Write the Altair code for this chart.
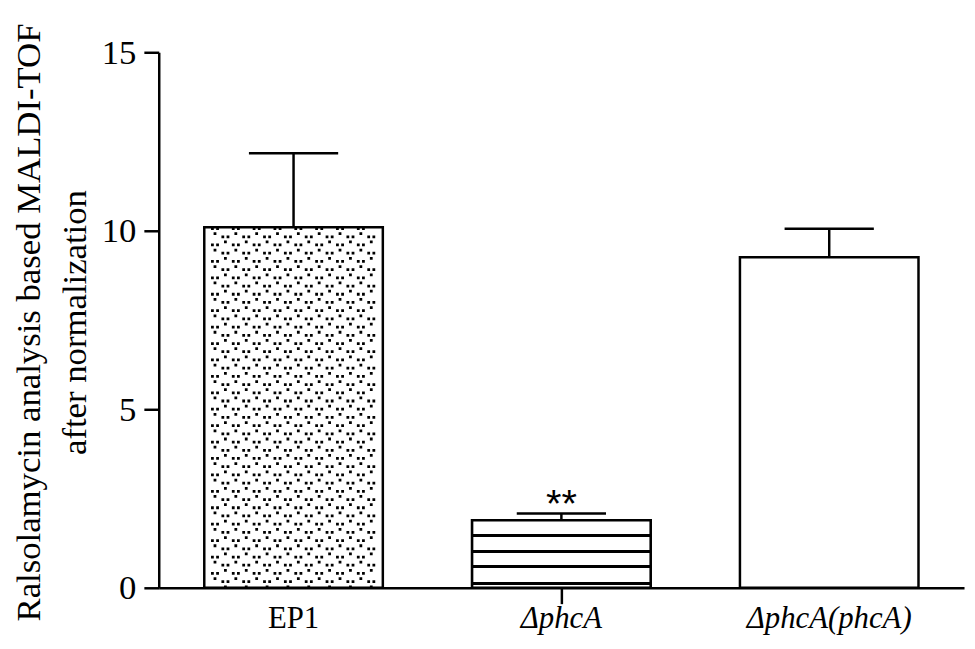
import altair as alt
import numpy as np
import pandas as pd

# ---- data ----
strains = ["EP1", "ΔphcA", "ΔphcA(phcA)"]
means = [10.1, 1.89, 9.26]
errors = [2.07, 0.19, 0.80]
stars = ["", "**", ""]
fills = ["dots", "stripes", "plain"]
y_ticks = [0, 5, 10, 15]
y_title = ["Ralsolamycin analysis based MALDI-TOF", "after normalization"]

df = pd.DataFrame({"strain": strains, "mean": means, "err": errors,
                   "sig": stars, "fill": fills})
df["upper"] = df["mean"] + df["err"]

SERIF = "'Liberation Serif', 'Times New Roman', Times, serif"
LW = 2.5

# band geometry of the category axis (style)
P_INNER = 1 / 3
P_OUTER = 0.17
n_cat = len(strains)
span = n_cat - P_INNER + 2 * P_OUTER   # band-scale range in "step" units

# ---- texture for the dotted bar (style only: a repeating dot pattern) ----
row_step = 0.23          # vertical pitch of the dot rows (y units)
col_step = 0.1167        # horizontal pitch (fraction of bar width)
recs = []
for idx, (s, m, f) in enumerate(zip(strains, means, fills)):
    if f != "dots":
        continue
    rows = np.arange(m - 0.11, 0.05, -row_step)
    for i, yv in enumerate(rows):
        start = 0.06 if i % 2 == 0 else 0.06 + col_step / 2
        for fr in np.arange(start, 0.96, col_step):
            recs.append({"pos": P_OUTER + idx + fr * (1 - P_INNER), "y": yv})
dots = pd.DataFrame(recs)

# ---- stripe gradient for the striped bar (style only) ----
stripe_centers = [0.22, 0.456, 0.69, 0.94]
half = 0.021
stops = [{"offset": 0, "color": "white"}]
for c in stripe_centers:
    stops += [{"offset": c - half, "color": "white"},
              {"offset": c - half, "color": "black"},
              {"offset": c + half, "color": "black"},
              {"offset": c + half, "color": "white"}]
stops.append({"offset": 1, "color": "white"})
stripe_fill = {"gradient": "linear", "x1": 0, "y1": 0, "x2": 0, "y2": 1, "stops": stops}

V_SHAPE = ("M-1,-1H-0.3V-0.3H-1Z M0.3,-1H1V-0.3H0.3Z "
           "M-0.35,0.3H0.35V1H-0.35Z")

xaxis = alt.Axis(title=None, labelAngle=0, labelFont=SERIF, labelFontSize=31,
                 labelColor="black", labelPadding=0, tickSize=16, tickWidth=LW,
                 tickColor="black", domainColor="black", domainWidth=LW,
                 tickOpacity={"condition": {"test": "datum.value === 'ΔphcA'", "value": 1},
                              "value": 0},
                 labelFontStyle={"condition": {"test": "datum.value === 'EP1'", "value": "normal"},
                                 "value": "italic"})
xscale = alt.Scale(domain=strains, paddingInner=P_INNER, paddingOuter=P_OUTER)
x_enc = alt.X("strain:N", scale=xscale, axis=xaxis)

yaxis = alt.Axis(values=y_ticks, title=y_title, titleFont=SERIF, titleFontSize=35,
                 titleFontWeight="normal", titleColor="black", titleLineHeight=46,
                 titleAngle=270, titleAlign="center", titleBaseline="alphabetic",
                 titleX=-120, titleY=272,
                 labelFont=SERIF, labelFontSize=35, labelColor="black", labelPadding=8,
                 tickSize=15, tickWidth=LW, tickColor="black",
                 domainColor="black", domainWidth=LW, grid=False)
yscale = alt.Scale(domain=[0, 15], nice=False)

base = alt.Chart(df)

bars = base.mark_bar(fill="white", stroke="black", strokeWidth=LW).encode(
    x=x_enc, y=alt.Y("mean:Q", scale=yscale, axis=yaxis))

striped = base.transform_filter(alt.datum.fill == "stripes").mark_bar(
    fill=stripe_fill, stroke="black", strokeWidth=LW).encode(
    x=x_enc, y=alt.Y("mean:Q", scale=yscale, axis=yaxis))

err_rule = base.mark_rule(color="black", strokeWidth=LW).encode(
    x=x_enc, y=alt.Y("mean:Q", scale=yscale, axis=yaxis), y2="upper:Q")

err_cap = base.mark_tick(color="black", thickness=LW, size=90, opacity=1).encode(
    x=x_enc, y=alt.Y("upper:Q", scale=yscale, axis=yaxis))

sig_text = base.mark_text(font="Liberation Sans", fontSize=40, baseline="alphabetic",
                          dy=3, color="black").encode(
    x=x_enc, y=alt.Y("upper:Q", scale=yscale, axis=yaxis), text="sig:N")

dot_layer = alt.Chart(dots).mark_point(
    shape=V_SHAPE, size=64, filled=True, color="black", opacity=1, strokeWidth=0
).encode(
    x=alt.X("pos:Q", scale=alt.Scale(domain=[0, span], nice=False, zero=False), axis=None),
    y=alt.Y("y:Q", scale=yscale, axis=yaxis))

main = alt.layer(bars, striped, err_rule, err_cap, sig_text)

chart = alt.layer(main, dot_layer).resolve_scale(x="independent").properties(
    width=812, height=540,
    autosize=alt.AutoSizeParams(type="none"),
    padding={"left": 152, "top": 42, "right": 3, "bottom": 51},
).configure(background="white").configure_view(stroke=None)

chart.save("out.html", embed_options={"renderer": "svg", "actions": False})
